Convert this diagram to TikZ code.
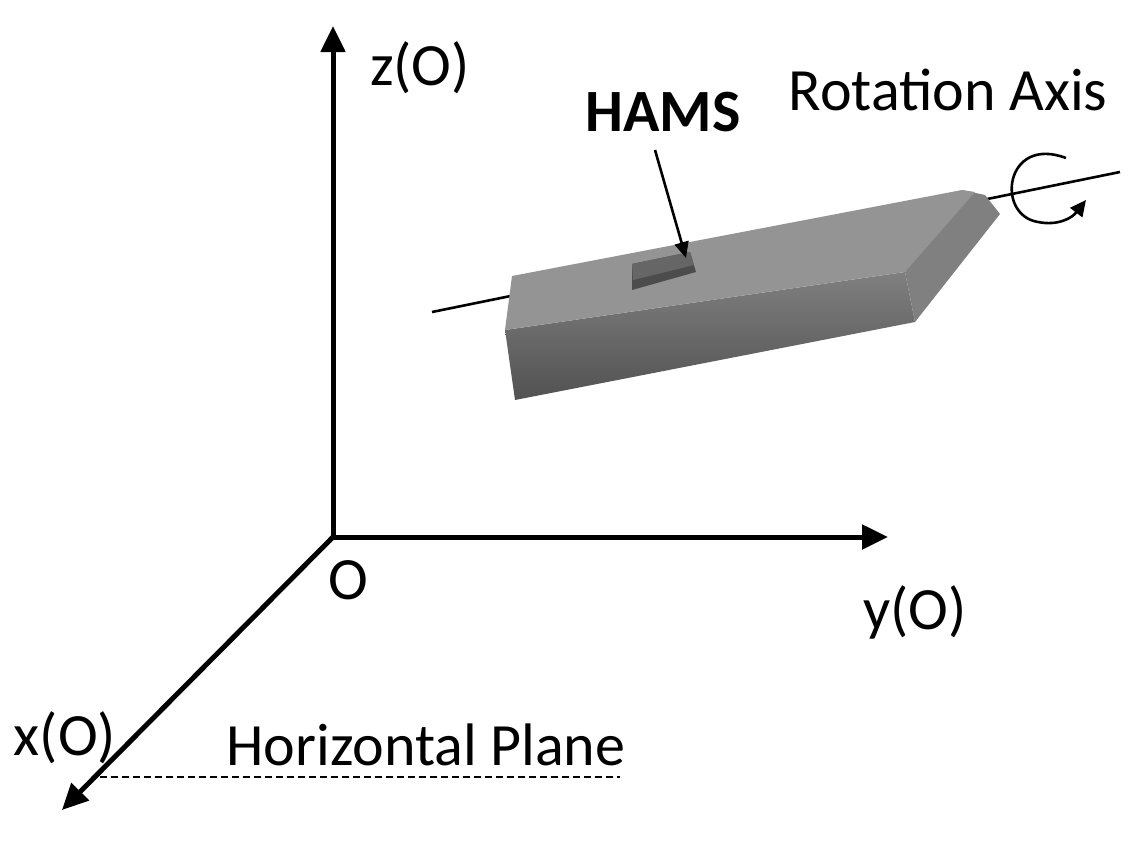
\documentclass[tikz,border=0pt]{standalone}
\usepackage{fontspec}
\setmainfont{Carlito}
\usetikzlibrary{arrows.meta}
\begin{document}
\begin{tikzpicture}[x=1pt,y=-1pt,
  axis/.style={line width=5pt,-{Triangle[length=26pt,width=24pt]}},
  lbl/.style={font=\fontsize{60}{62}\selectfont,inner sep=0pt},
  thin/.style={line width=2.6pt}]
\useasboundingbox (0,0) rectangle (1135,841);
\coordinate (O) at (333,537);
\coordinate (zt) at (333,26);
\coordinate (yt) at (888,537);
\coordinate (xt) at (62,810);
\draw[axis] (O) -- (zt);
\draw[axis] (O) -- (yt);
\draw[axis] (O) -- (xt);
\coordinate (d1) at (100,777); \coordinate (d2) at (620,777);
\draw[line width=1.8pt,dash pattern=on 7pt off 4pt] (d1) -- (d2);
% rotation axis
\coordinate (a1) at (432,312); \coordinate (a2) at (1120,172);
\draw[thin] (a1) -- (a2);
% box
\shade[top color=black!50, bottom color=black!68] (505,330) -- (905,272) -- (915,322) -- (515,400) -- cycle;
\fill[black!50] (962,190) -- (985,195) -- (1000,214) -- (915,322) -- (905,272) -- cycle;
\fill[black!42] (512,276) -- (962,190) -- (975,192) -- (905,272) -- (505,330) -- cycle;
% HAMS chip
\fill[black!70] (632,264) -- (690,252) -- (696,272) -- (632,290) -- cycle;
\fill[black!60] (632,264) -- (690,252) -- (694,265) -- (633,280) -- cycle;
% labels
\node[lbl] (zl) at (420,68) {z(O)};
\node[lbl] (rl) at (948,90) {Rotation Axis};
\node[lbl,font=\fontsize{60}{62}\selectfont\bfseries] (hl) at (663,112) {HAMS};
\node[lbl] (ol) at (348,580) {O};
\node[lbl] (yl) at (915,612) {y(O)};
\node[lbl] (xl) at (65,738) {x(O)};
\node[lbl] (pl) at (426,745) {Horizontal Plane};
\coordinate (ht) at (686,258);
\draw[thin,-{Triangle[length=16pt,width=14pt]}] (655,150) -- (ht);
% rotation arrow
\draw[thin,-{Triangle[length=16pt,width=15pt]}] (1066,158) .. controls (1005,135) and (995,215) .. (1038,222) .. controls (1058,226) and (1072,218) .. (1086,200);
\end{tikzpicture}
\end{document}
